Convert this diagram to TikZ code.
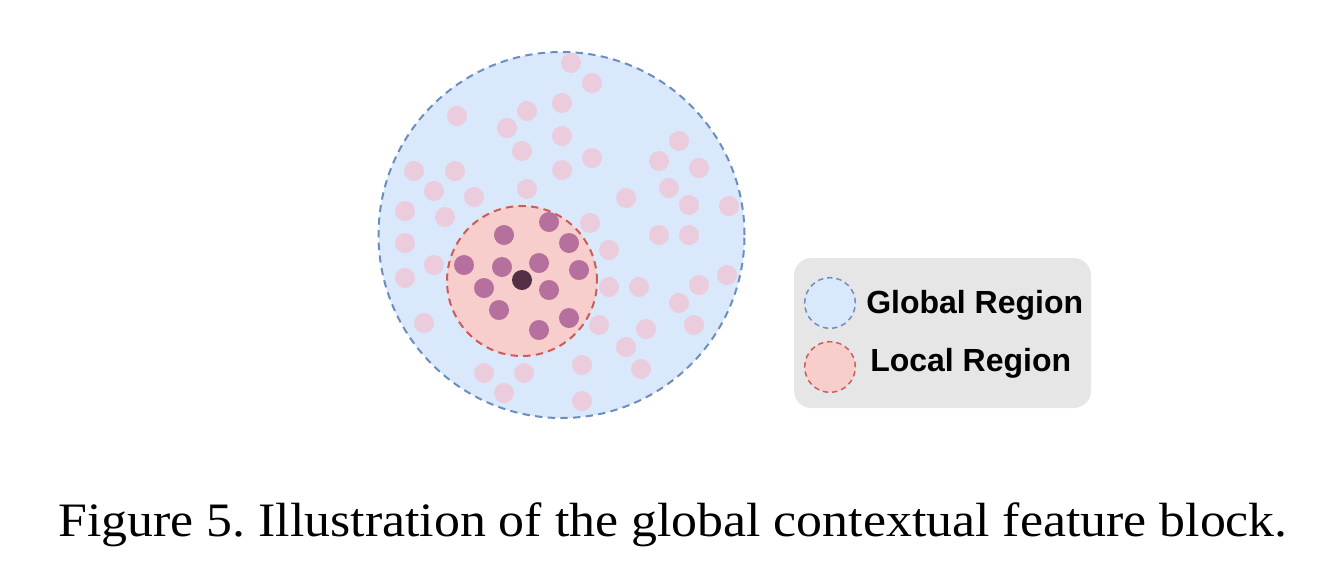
\documentclass[tikz,border=0pt]{standalone}
\usepackage{fontspec}
\setmainfont{Liberation Serif}
\newfontfamily\legendfont{Liberation Sans}
\usepackage{tikz}

\definecolor{globalfill}{RGB}{218,232,252}
\definecolor{globaldraw}{RGB}{108,142,191}
\definecolor{localfill}{RGB}{248,206,204}
\definecolor{localdraw}{RGB}{208,90,86}
\definecolor{farpoint}{RGB}{234,204,220}
\definecolor{nearpoint}{RGB}{181,112,157}
\definecolor{centrepoint}{RGB}{84,48,70}
\definecolor{legendbg}{RGB}{230,230,230}

\tikzset{
  region/.style={circle, inner sep=0pt, line width=1.5pt, dash pattern=on 5.5pt off 4pt},
  globalregion/.style={region, fill=globalfill, draw=globaldraw},
  localregion/.style={region, fill=localfill, draw=localdraw},
  pt/.style={circle, inner sep=0pt, minimum size=15pt},
  legendtext/.style={anchor=west, inner sep=0pt, font=\legendfont\bfseries\fontsize{24}{28}\selectfont},
}

\begin{document}
\frenchspacing
\begin{tikzpicture}[x=0.75pt,y=0.75pt,yscale=-1,xscale=1]
\useasboundingbox (0,0) rectangle (1342,576);

%Global region
\node [globalregion, minimum size=274.5pt] (global) at (561.5,235) {};
%Far points
\foreach \px/\py [count=\i] in {571/63, 592/83, 457/116, 527/111, 562/103, 507/128, 562/136, 522/151,
    592/158, 679/141, 659/161, 699/168, 414/171, 455/171, 562/170, 434/191, 527/189, 669/188,
    474/197, 626/198, 689/205, 729/206, 405/211, 445/217, 590/223, 405/243, 609/250, 659/235,
    689/235, 434/265, 405/278, 609/287, 639/287, 727/275, 699/285, 679/303, 424/323, 599/325,
    646/329, 694/325, 626/347, 484/373, 524/373, 582/365, 641/369, 504/393, 582/401}
  \node [pt, fill=farpoint] (far\i) at (\px,\py) {};

%Local region
\node [localregion, minimum size=112.5pt] (local) at (522,281) {};
%Near points
\foreach \px/\py [count=\i] in {549/222, 504/235, 569/243, 464/265, 502/267, 539/263,
    579/270, 484/288, 549/290, 499/310, 569/318, 539/330}
  \node [pt, fill=nearpoint] (near\i) at (\px,\py) {};
%Centre point
\node [pt, fill=centrepoint] (centre) at (522,280) {};

%Legend
\draw [fill=legendbg, draw=none, rounded corners=13pt] (794,258) rectangle (1091,408);
\node [globalregion, minimum size=38pt, dash pattern=on 4pt off 3pt, line width=1.1pt] (globalkey) at (830,303) {};
\node [localregion, minimum size=38pt, dash pattern=on 4pt off 3pt, line width=1.1pt] (localkey) at (830,367) {};
\node [legendtext] (globaltext) at (866,305) {Global Region};
\node [legendtext] (localtext) at (870,363) {Local Region};

%Caption
\node [anchor=base west, inner sep=0pt, font=\fontsize{36}{40}\selectfont] (caption) at (58,536)
  {\scalebox{1.08}[1]{Figure 5. Illustration of the global contextual feature block.}};

\end{tikzpicture}
\end{document}
